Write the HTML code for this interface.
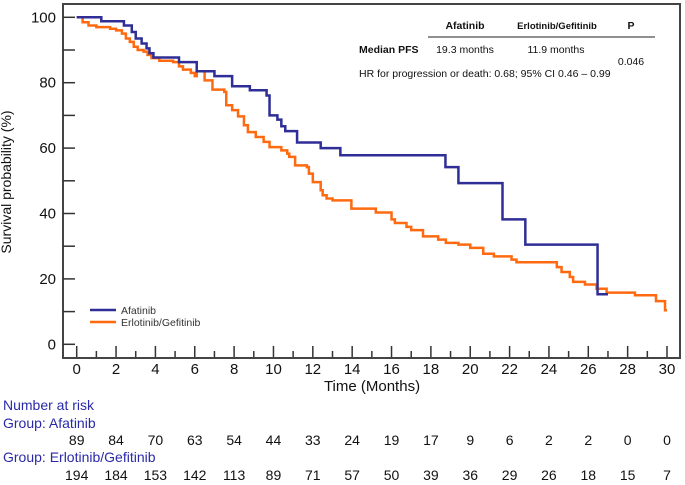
<!DOCTYPE html>
<html><head><meta charset="utf-8"><style>
body{margin:0;background:#fff;}
svg{display:block;font-family:"Liberation Sans",Arial,sans-serif;}
</style></head><body>
<svg id="chart" width="685" height="485" viewBox="0 0 685 485">
<rect x="63" y="4" width="617" height="354" fill="none" stroke="#444" stroke-width="2"/>
<g id="ticks"></g>
<g id="curves"></g>
<text x="11" y="182" transform="rotate(-90 11 182)" text-anchor="middle" font-size="14" fill="#111">Survival probability (%)</text>
<text x="372" y="391" text-anchor="middle" font-size="15" fill="#111">Time (Months)</text>
<g>
<line x1="90" y1="310" x2="116" y2="310" stroke="#2e2e96" stroke-width="2.5"/>
<text x="121" y="314" font-size="10.5" fill="#333">Afatinib</text>
<line x1="90" y1="322" x2="116" y2="322" stroke="#ff6a10" stroke-width="2.5"/>
<text x="121" y="326" font-size="10.5" fill="#333">Erlotinib/Gefitinib</text>
</g>
<g font-size="10.5" fill="#111">
<text x="465" y="29" text-anchor="middle" font-weight="bold">Afatinib</text>
<text x="557" y="29" text-anchor="middle" font-weight="bold" font-size="9.5">Erlotinib/Gefitinib</text>
<text x="631" y="29" text-anchor="middle" font-weight="bold">P</text>
<line x1="428" y1="37" x2="655" y2="37" stroke="#222" stroke-width="1"/>
<text x="359" y="53" font-weight="bold">Median PFS</text>
<text x="465" y="53" text-anchor="middle">19.3 months</text>
<text x="556" y="53" text-anchor="middle">11.9 months</text>
<text x="631" y="65" text-anchor="middle">0.046</text>
<text x="359" y="77">HR for progression or death:  0.68; 95% CI 0.46 – 0.99</text>
</g>
<g font-size="14">
<text x="3" y="410" fill="#2a2aa8">Number at risk</text>
<text x="3" y="428" fill="#2a2aa8">Group: Afatinib</text>
<text x="3" y="462" fill="#2a2aa8">Group: Erlotinib/Gefitinib</text>
<g id="risk" fill="#111"></g>
</g>
</svg>
<script>
const xTicks=[0,2,4,6,8,10,12,14,16,18,20,22,24,26,28,30];
const yTicks=[0,20,40,60,80,100];
const afaT=[0,1.25,2.4,2.8,3.0,3.3,3.55,3.7,3.9,5.2,6.1,7.0,7.9,8.8,9.65,9.8,10.2,10.4,10.6,11.2,12.4,13.4,18.74,19.4,21.64,22.8,26.47];
const afaS=[100,98.8,97.5,95.5,93.5,92,90.5,89,87.7,86.3,83.5,82,78.9,77.7,76.1,70,68.7,66.7,65.2,61.7,60,57.8,54.2,49.3,38.2,30.5,15.3];
const afaEnd=27.0;
const erlT=[0,0.3,0.6,1.0,1.7,2.0,2.3,2.5,2.7,2.9,3.1,3.4,3.6,3.8,4.2,4.9,5.2,5.4,5.8,6.0,6.1,6.5,6.9,7.5,7.6,7.9,8.2,8.5,8.7,9.1,9.5,9.8,10.4,10.7,10.8,11.1,11.7,11.8,12.0,12.4,12.5,12.7,13.0,13.96,15.2,16.0,16.17,16.76,17.0,17.6,18.37,18.76,19.4,20.0,20.66,21.2,22.1,22.35,24.4,24.64,25.06,25.23,25.83,26.42,26.93,28.37,29.44,29.9];
const erlS=[100,98.5,97.5,97,96.5,96,95,93.5,92.5,91,90,89.5,88.5,87.5,86.7,86.3,85,84,83,82,83.5,80.7,77.9,77.2,73.1,71.6,69.7,67,64.9,63.4,61.9,60.3,59.3,58.3,57.3,54.7,54.2,52.2,49.6,47.1,45.6,44.6,44.0,41.5,40.3,38.2,37.1,35.9,34.9,33.0,32.0,31.0,30.5,29.5,27.7,26.9,25.9,25.1,23.6,22.1,20.6,19.1,18.3,17.0,15.8,15.0,13.2,10.4];
const erlEnd=30;
const riskAfa=[89,84,70,63,54,44,33,24,19,17,9,6,2,2,0,0];
const riskErl=[194,184,153,142,113,89,71,57,50,39,36,29,26,18,15,7];
const X=t=>76.7+t*(667-76.7)/30;
const Y=v=>344.3-v*(344.3-17.3)/100;
const NS='http://www.w3.org/2000/svg';
function mk(tag,attrs,parent){const e=document.createElementNS(NS,tag);for(const k in attrs)e.setAttribute(k,attrs[k]);parent.appendChild(e);return e;}
const tg=document.getElementById('ticks');
for(let m=0;m<=30;m++){const major=m%2===0;
 const l=mk('line',{x1:X(m),x2:X(m),y1:357,y2:major?346:351,stroke:'#333','stroke-width':1.5},tg);
 
 }
xTicks.forEach(t=>{const e=mk('text',{x:X(t),y:374,'text-anchor':'middle','font-size':15,fill:'#111'},tg);e.textContent=t;
 
 });
for(let v=0;v<=100;v+=10){const l=mk('line',{x1:63,x2:75,y1:Y(v),y2:Y(v),stroke:'#333','stroke-width':1.5},tg);
 
 }
yTicks.forEach(v=>{const e=mk('text',{x:56,y:Y(v)+5,'text-anchor':'end','font-size':15,fill:'#111'},tg);e.textContent=v;
 
 });
function stepPath(T,S,end){let d='M'+X(T[0])+' '+Y(S[0]);for(let i=1;i<T.length;i++){d+=' H'+X(T[i])+' V'+Y(S[i]);}d+=' H'+X(end);return d;}
const cg=document.getElementById('curves');
const pe=mk('path',{d:stepPath(erlT,erlS,erlEnd),fill:'none',stroke:'#ff6a10','stroke-width':2.5},cg);


const pa=mk('path',{d:stepPath(afaT,afaS,afaEnd),fill:'none',stroke:'#2e2e96','stroke-width':2.5},cg);


const rg=document.getElementById('risk');
xTicks.forEach((t,i)=>{
 const a=mk('text',{x:X(t),y:445,'text-anchor':'middle'},rg);a.textContent=riskAfa[i];
 
 
 const b=mk('text',{x:X(t),y:480,'text-anchor':'middle'},rg);b.textContent=riskErl[i];
 
 
});
</script>
</body></html>
